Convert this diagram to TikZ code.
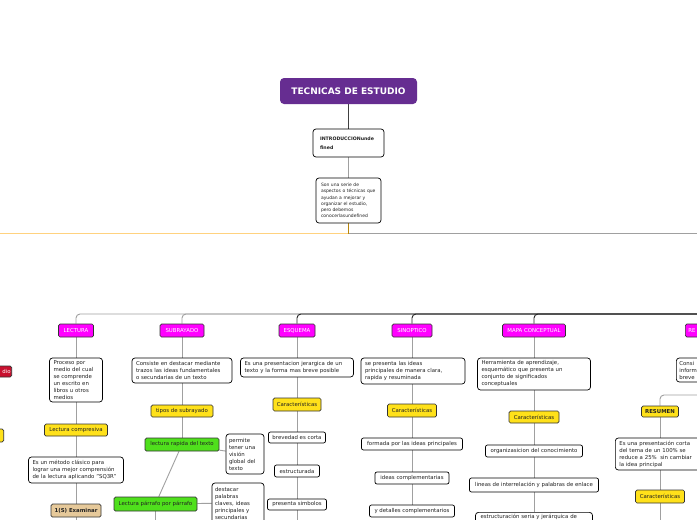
\documentclass[tikz,border=0pt]{standalone}
\usepackage{fontspec}
\setmainfont{DejaVu Sans}
\usetikzlibrary{backgrounds}
\definecolor{purpC}{HTML}{662D91}
\definecolor{magC}{HTML}{FF00FF}
\definecolor{ylwC}{HTML}{FFE11A}
\definecolor{grnC}{HTML}{4FE01C}
\definecolor{tanC}{HTML}{E6C99A}
\definecolor{redC}{HTML}{C8102E}
\definecolor{orgC}{HTML}{FFD27F}
\definecolor{brnC}{HTML}{B8860B}
\definecolor{connC}{HTML}{A0A0A0}
\definecolor{txtC}{HTML}{222222}
\begin{document}
\begin{tikzpicture}[x=1pt,y=-1pt,
 txt/.style={font=\fontsize{5.4}{7}\selectfont, text=txtC},
 wbox/.style={txt, draw=black, fill=white, line width=0.7pt, rounded corners=3pt, align=left, inner xsep=4pt, inner ysep=1pt},
 wone/.style={txt, draw=black, fill=white, line width=0.7pt, rounded corners=2pt, align=center, inner sep=1pt},
 magbox/.style={txt, draw=black!80, fill=magC, text=white, line width=0.7pt, rounded corners=1.5pt, inner sep=1pt, align=center},
 ylwbox/.style={txt, draw=black!80, fill=ylwC, line width=0.7pt, rounded corners=1.5pt, inner sep=1pt, align=center},
 grnbox/.style={txt, draw=black!80, fill=grnC, line width=0.7pt, rounded corners=1.5pt, inner sep=1pt, align=center},
 tanbox/.style={txt, draw=black!80, fill=tanC, line width=0.7pt, rounded corners=1.5pt, inner sep=1pt, align=center},
 redbox/.style={txt, draw=black!80, fill=redC, text=white, line width=0.7pt, rounded corners=1.5pt, inner sep=1pt},
 ttlbox/.style={fill=purpC, text=white, rounded corners=4pt, font=\fontsize{9}{11}\selectfont\bfseries, minimum width=137pt, minimum height=26pt},
 conn/.style={draw=connC, line width=0.9pt},
 dconn/.style={draw=black!85, line width=0.9pt},
]
\useasboundingbox (0,0) rectangle (697,520);

% top part
\node[ttlbox] (title) at (348.5,91) {TECNICAS DE ESTUDIO};
\node[wbox, font=\fontsize{4.7}{9}\selectfont\bfseries, inner xsep=7pt, text width=57pt, minimum height=28pt] (intro) at (348.5,143) {INTRODUCCIONunde\\fined};
\node[wbox, font=\fontsize{4.5}{6.2}\selectfont, inner xsep=5pt, text width=55pt, minimum height=45pt] (son) at (348.5,200.5) {Son una serie de\\aspectos o técnicas que\\ayudan a mejorar y\\organizar el estudio,\\pero debemos\\conocerlasundefined};
\coordinate (jn) at (348.5,233.5);
\coordinate (lft) at (-5,233.5);
\coordinate (rgt) at (705,233.5);

% hub coordinates
\coordinate (hub) at (710,314);
\coordinate (hub2) at (710,395);

% left partial boxes
\node[redbox, anchor=east, text width=30pt, align=right, minimum height=11pt] (redp) at (12,371.5) {dio};
\node[ylwbox, anchor=east, minimum width=30pt, minimum height=13pt] (yelp) at (4,435.5) {};

% LECTURA column
\node[magbox, minimum width=35pt, minimum height=13pt] (lec) at (76,330.5) {LECTURA};
\node[wbox, text width=45pt, minimum height=44pt] (proc) at (76,380) {Proceso por\\medio del cual\\se comprende\\un escrito en\\libros u otros\\medios};
\node[ylwbox, minimum width=63pt, minimum height=12pt] (lcomp) at (76,430) {Lectura compresiva};
\node[wbox, text width=87pt, minimum height=26pt] (metodo) at (76,470) {Es un método clásico para\\lograr una mejor comprensión\\de la lectura aplicando "SQ3R"};
\node[tanbox, font=\fontsize{5.4}{7}\selectfont\bfseries, minimum width=50pt, minimum height=13pt] (exam) at (76,510.5) {1(S) Examinar};
\coordinate (lecEnd) at (76,523);

% SUBRAYADO column
\node[magbox, minimum width=44pt, minimum height=13pt] (sub) at (182,330.5) {SUBRAYADO};
\node[wbox, text width=92pt, minimum height=25pt] (cons) at (182,370.5) {Consiste en destacar mediante\\trazos las ideas fundamentales\\o secundarias de un texto};
\node[ylwbox, minimum width=62pt, minimum height=12pt] (tipos) at (182,411) {tipos de subrayado};
\node[grnbox, minimum width=74pt, minimum height=13pt] (rapida) at (182,444.5) {lectura rapida del texto};
\node[wbox, inner xsep=3pt, text width=32pt, minimum height=40pt] (permite) at (245,454) {permite\\tener una\\visión\\global del\\texto};
\node[grnbox, minimum width=83pt, minimum height=14pt] (parrafo) at (155.5,504) {Lectura párrafo por párrafo};
\node[wbox, inner xsep=3pt, text width=46pt, minimum height=40pt] (destacar) at (238,503) {destacar\\palabras\\claves, ideas\\principales y\\secundarias};
\coordinate (parEnd) at (155.5,523);

% ESQUEMA column
\node[magbox, minimum width=36pt, minimum height=13pt] (esq) at (297,330.5) {ESQUEMA};
\node[wbox, text width=105pt, minimum height=19pt] (esqdef) at (297,367.5) {Es una presentacion jerargica de un\\texto y la forma mas breve posible};
\node[ylwbox, minimum width=48pt, minimum height=13pt] (car1) at (297,404.5) {Características};
\node[wone, minimum width=57pt, minimum height=11pt] (brev) at (297,437.5) {brevedad es corta};
\node[wone, minimum width=45pt, minimum height=12pt] (estr) at (297,471) {estructurada};
\node[wone, minimum width=59pt, minimum height=11pt] (simb) at (297,504.5) {presenta simbolos};
\coordinate (esqEnd) at (297,523);

% SINOPTICO column
\node[magbox, minimum width=40pt, minimum height=13pt] (sin) at (412,330.5) {SINOPTICO};
\node[wbox, text width=96pt, minimum height=26pt] (sindef) at (413,371) {se presenta las ideas\\principales de manera clara,\\rapida y resuminada};
\node[ylwbox, minimum width=49pt, minimum height=13pt] (car2) at (412,410.5) {Características};
\node[wone, minimum width=101pt, minimum height=12pt] (form) at (412,444) {formada por las ideas principales};
\node[wone, minimum width=74pt, minimum height=12pt] (ideas) at (412,478) {ideas complementarias};
\node[wone, minimum width=85pt, minimum height=12pt] (det) at (412,511) {y detalles complementarios};

% MAPA CONCEPTUAL column
\node[magbox, minimum width=63pt, minimum height=13pt] (mapa) at (534,330.5) {MAPA CONCEPTUAL};
\node[wbox, text width=105pt, minimum height=32pt] (herr) at (534,374) {Herramienta de aprendizaje,\\esquemático que presenta un\\conjunto de significados\\conceptuales};
\node[ylwbox, minimum width=50pt, minimum height=12pt] (car3) at (534,417) {Características};
\node[wone, minimum width=97pt, minimum height=12pt] (org) at (534,451) {organizasicion del conocimiento};
\node[wone, minimum width=129pt, minimum height=14pt] (lin) at (534,485) {lineas de interrelación y palabras de enlace};
\node[wbox, anchor=north, inner xsep=5pt, text width=107pt, text depth=20pt, inner ysep=2pt] (estr2) at (534,512) {estructuración seria y jerárquica de};

% RESUMEN part
\node[magbox, anchor=west, text width=30pt, align=left, inner xsep=3pt, minimum height=13pt] (re) at (685,330.5) {RE};
\node[wbox, anchor=west, inner xsep=3pt, text width=50pt, minimum height=24pt] (consi) at (676,370) {Consi\\inform\\breve};
\node[ylwbox, font=\fontsize{5.4}{7}\selectfont\bfseries, minimum width=37pt, minimum height=11pt] (resu) at (660,411.5) {RESUMEN};
\node[wbox, anchor=west, text width=80pt, minimum height=32pt] (resdef) at (615,454) {Es una presentación corta\\del tema de un 100\% se\\reduce a 25\%\ \ sin cambiar\\la idea principal};
\node[ylwbox, minimum width=49pt, minimum height=13pt] (car4) at (660,496.5) {Características};
\coordinate (resEnd) at (660,523);

% connectors (behind boxes)
\begin{scope}[on background layer]
\fill[white] (0,0) rectangle (697,520);
\draw[draw=black!75, line width=0.9pt] (title) -- (intro);
\draw[conn] (intro) -- (son);
\draw[draw=orgC, line width=0.9pt] (jn) -- (lft);
\draw[conn] (jn) -- (rgt);
\draw[draw=brnC, line width=0.8pt] (son) -- (jn);
% branch to topics
\draw[conn, rounded corners=4pt] (hub) -| (lec);
\draw[conn, rounded corners=4pt] (hub) -| (sub);
\draw[dconn, rounded corners=4pt] (hub) -| (esq);
\draw[dconn, rounded corners=4pt] (hub) -| (sin);
\draw[dconn, rounded corners=4pt] (hub) -| (mapa);
% LECTURA
\draw[conn] (lec) -- (proc);
\draw[conn] (proc) -- (lcomp);
\draw[conn] (lcomp) -- (metodo);
\draw[conn] (metodo) -- (exam);
\draw[conn] (exam) -- (lecEnd);
% SUBRAYADO
\draw[conn] (sub) -- (cons);
\draw[conn] (cons) -- (tipos);
\draw[conn] (tipos) -- (rapida);
\draw[conn] (rapida) -- (permite);
\draw[conn] (rapida) -- (parrafo);
\draw[conn] (parrafo) -- (destacar);
\draw[conn] (parrafo) -- (parEnd);
% ESQUEMA
\draw[conn] (esq) -- (esqdef);
\draw[conn] (esqdef) -- (car1);
\draw[conn] (car1) -- (brev);
\draw[conn] (brev) -- (estr);
\draw[conn] (estr) -- (simb);
\draw[conn] (simb) -- (esqEnd);
% SINOPTICO
\draw[conn] (sin) -- (sin |- sindef.north);
\draw[conn] (sindef.south -| car2) -- (car2);
\draw[conn] (car2) -- (form);
\draw[conn] (form) -- (ideas);
\draw[conn] (ideas) -- (det);
% MAPA
\draw[conn] (mapa) -- (herr);
\draw[conn] (herr) -- (car3);
\draw[conn] (car3) -- (org);
\draw[conn] (org) -- (lin);
\draw[conn] (lin) -- (estr2);
% RESUMEN
\draw[conn, rounded corners=4pt] (hub2) -| (resu);
\draw[conn] (resu) -- (resdef.north -| resu);
\draw[conn] (resdef.south -| resu) -- (car4);
\draw[conn] (car4) -- (resEnd);
\end{scope}
\end{tikzpicture}
\end{document}
